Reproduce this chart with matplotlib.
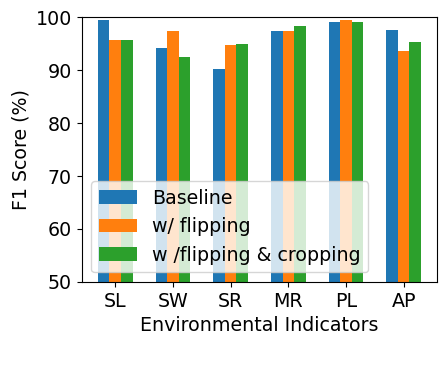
import numpy as np
import matplotlib
matplotlib.use('Agg')
import matplotlib.pyplot as plt

categories = ['SL', 'SW', 'SR', 'MR', 'PL', 'AP']
baseline = [99.4, 94.2, 90.3, 97.4, 99.0, 97.6]
flipping = [95.7, 97.3, 94.8, 97.3, 99.5, 93.7]
flip_crop = [95.6, 92.5, 94.9, 98.4, 99.0, 95.3]
series_names = ['Baseline', 'w/ flipping', 'w /flipping & cropping']

plt.rcParams['font.size'] = 13.7

fig, ax = plt.subplots(figsize=(4.47, 3.81), dpi=100)
fig.subplots_adjust(left=0.183, right=0.978, top=0.955, bottom=0.26)

x = np.arange(len(categories))
w = 0.2
for i, (vals, name) in enumerate(zip([baseline, flipping, flip_crop], series_names)):
    ax.bar(x + (i - 1) * w, vals, width=w, label=name)

ax.set_ylim(50, 100)
ax.set_xticks(x)
ax.set_xticklabels(categories)
ax.set_ylabel('F1 Score (%)')
ax.set_xlabel('Environmental Indicators')
ax.legend(loc='lower left')

fig.savefig('out.png', dpi=100)
